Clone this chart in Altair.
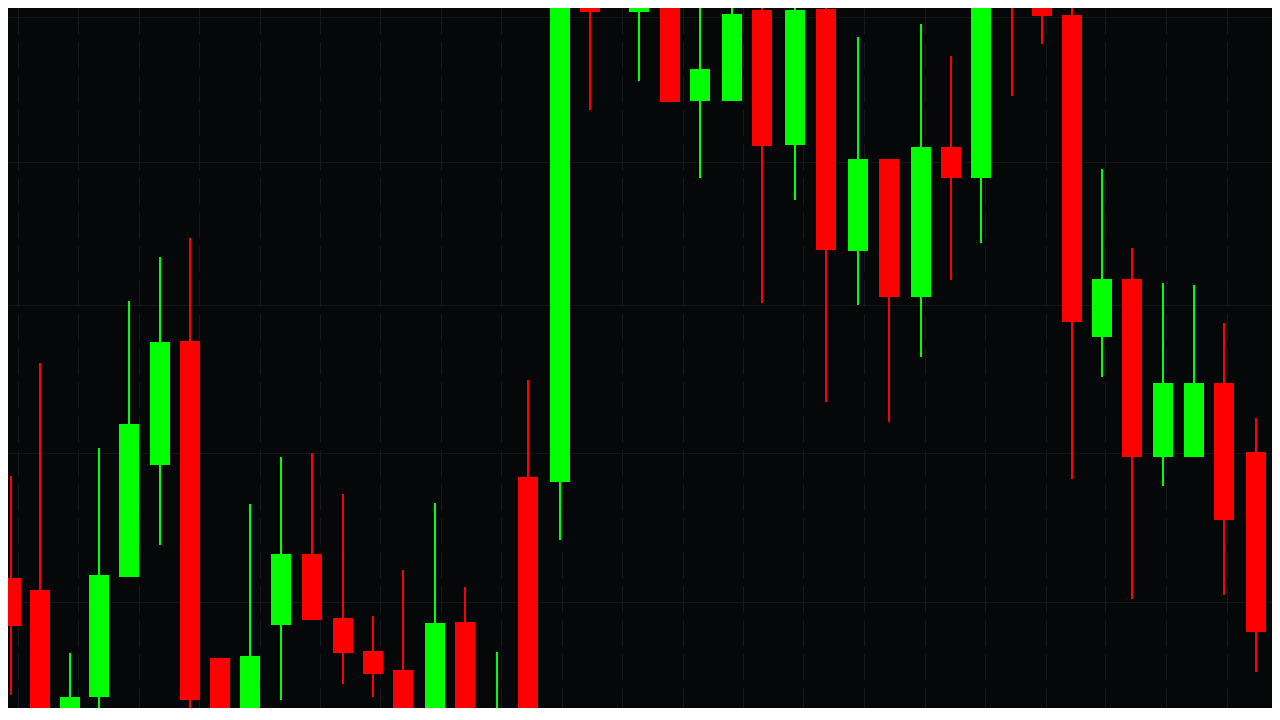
import altair as alt
import pandas as pd

# Candle positions (time axis, in chart units) and OHLC values (price units)
xs = [11, 40, 70, 99, 129, 160, 190, 220, 250, 281, 312, 343, 373, 403, 435, 465,
      497, 528, 560, 590, 639, 670, 700, 732, 762, 795, 826, 858, 889, 921, 951, 981,
      1012, 1042, 1072, 1102, 1132, 1163, 1194, 1224, 1256, 1287]
opens = [142, 130, -40, 23, 143, 255, 379, 62, 4, 95, 166, 102, 69, 50, -20, 98,
         -20, 243, 238, 760, 708, 760, 619, 619, 710, 575, 711, 469, 561, 423, 573, 542,
         780, 715, 705, 383, 441, 263, 263, 337, 268, 138]
highs = [244, 357, 67, 272, 419, 463, 482, 62, 216, 263, 267, 226, 104, 150, 217, 133,
         68, 340, 780, 780, 780, 780, 760, 740, 740, 740, 740, 683, 561, 696, 664, 780,
         790, 740, 740, 551, 472, 437, 435, 397, 302, 150]
lows = [25, -60, -60, -20, 143, 175, -20, -20, -20, 20, 100, 36, 23, -30, -30, -30,
        -30, -20, 180, 610, 639, 618, 542, 619, 417, 520, 318, 415, 298, 363, 440, 477,
        624, 676, 241, 343, 121, 234, 263, 125, 48, 60]
closes = [94, -40, 23, 145, 296, 378, 20, 4, 64, 166, 100, 67, 46, -20, 97, -20,
          3, 4, 760, 708, 760, 618, 651, 706, 574, 710, 470, 561, 423, 573, 542, 760,
          745, 704, 398, 441, 263, 337, 337, 200, 88, 90]

# Faint background grid positions
grid_x = [18, 78, 139, 199, 260, 320, 380, 441, 501, 562, 622, 683, 743, 803, 864,
          925, 985, 1046, 1105, 1166, 1227]
grid_y = [703, 558, 415, 267, 118]

df = pd.DataFrame({"t": xs, "open": opens, "high": highs, "low": lows, "close": closes})

x_scale = alt.Scale(domain=[8, 1272], nice=False, zero=False, padding=0)
y_scale = alt.Scale(domain=[12, 712], nice=False, zero=False, padding=0)

x_axis = alt.Axis(values=grid_x, labels=False, ticks=False, domain=False, title=None,
                  grid=True, gridColor="#181b1e", gridDash=[26, 8], gridWidth=1)
y_axis = alt.Axis(values=grid_y, labels=False, ticks=False, domain=False, title=None,
                  grid=True, gridColor="#14171a", gridWidth=1)

color = alt.condition("datum.close >= datum.open", alt.value("#00ff00"), alt.value("#ff0000"))

base = alt.Chart(df)

wicks = base.mark_rule(strokeWidth=2, clip=True).encode(
    x=alt.X("t:Q", scale=x_scale, axis=x_axis),
    y=alt.Y("low:Q", scale=y_scale, axis=y_axis),
    y2="high:Q",
    color=color,
)

bodies = base.mark_bar(size=20, clip=True).encode(
    x=alt.X("t:Q", scale=x_scale),
    y=alt.Y("open:Q", scale=y_scale),
    y2="close:Q",
    color=color,
)

chart = alt.layer(wicks, bodies).properties(
    width=1264, height=700, padding=0, autosize=alt.AutoSizeParams(type="none"),
    background="#050709",
).configure_view(stroke=None)

chart.save("out.html", embed_options={"renderer": "svg", "actions": False})
